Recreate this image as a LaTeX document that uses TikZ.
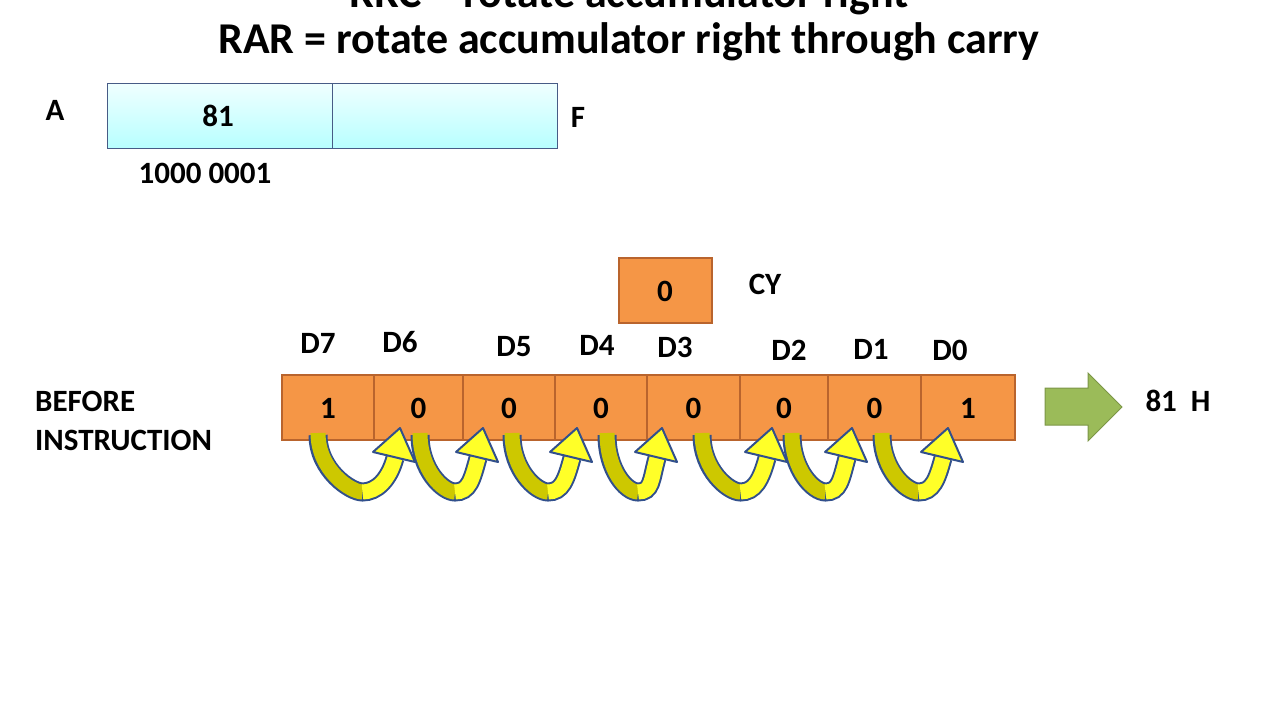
\documentclass[tikz,border=0pt]{standalone}
\usepackage{fontspec}
\setmainfont{Carlito}
\begin{document}
\begin{tikzpicture}[x=1pt,y=-1pt,
 lbl/.style={font=\bfseries\fontsize{31}{33}\selectfont,inner sep=0}]
\definecolor{cellc}{RGB}{245,150,70}
\definecolor{celld}{RGB}{185,100,45}
\definecolor{bluo}{RGB}{50,80,140}
\definecolor{dy}{RGB}{205,200,0}
\definecolor{ly}{RGB}{255,255,40}
\definecolor{grn}{RGB}{155,187,89}
\useasboundingbox (0,0) rectangle (1280,720);
\node[font=\bfseries\fontsize{44}{46}\selectfont,inner sep=0] (t1) at (629,-4) {RRC = rotate accumulator right};
\node[font=\bfseries\fontsize{44}{46}\selectfont,inner sep=0] (t2) at (629,42) {RAR = rotate accumulator right through carry};
% A register
\shade[top color=cyan!6,bottom color=cyan!28,draw=cyan!40!blue!60!black] (107,83) rectangle (557,148);
\draw[cyan!40!blue!60!black] (332,83) -- (332,148);
\node[lbl] (a) at (55,110) {A};
\node[lbl] (f) at (578,117) {F};
\node[lbl] (v81) at (218,116) {81};
\node[lbl] (bin) at (205,173) {1000 0001};
% CY
\draw[draw=celld,line width=2.5pt,fill=cellc] (619,258) rectangle (712,323);
\node[lbl] (cy0) at (665,291) {0};
\node[lbl] (cy) at (765,284) {CY};
% cells
\foreach \a/\b/\v/\lab/\lx/\ly in {282/374/1/D7/318/343, 374/463/0/D6/400/342, 463/555/0/D5/514/347, 555/647/0/D4/597/345, 647/740/0/D3/675/347, 740/828/0/D2/789/350, 828/921/0/D1/871/349, 921/1015/1/D0/950/350}{
 \draw[draw=celld,line width=2.5pt,fill=cellc] (\a,375) rectangle (\b,440);
 \node[lbl] at ({(\a+\b)/2},408) {\v};
 \node[lbl] at (\lx,\ly) {\lab};
}
% curved arrows
\foreach \s/\t in {318/403, 420/486, 512/580, 607/665, 702/775, 792/855, 882/951}{
 \pgfmathsetmacro{\m}{(\s+\t)/2+2}
 \draw[bluo,line width=19pt] (\s,435) .. controls (\s,470) and (\m-12,492) .. (\m,492) .. controls (\m+14,492) and (\t-14,480) .. (\t-8,458);
 \draw[dy,line width=15pt] (\s,433) .. controls (\s,470) and (\m-12,492) .. (\m,492);
 \draw[ly,line width=15pt] (\m,492) .. controls (\m+14,492) and (\t-14,480) .. (\t-8,458);
 \filldraw[fill=ly,draw=bluo,line width=2pt,line join=round] (\t-30,452) -- (\t-3,428) -- (\t+12,462) -- cycle;
}
% green arrow
\filldraw[fill=grn,draw=grn!80!black,line width=1pt] (1045,388) -- (1088,388) -- (1088,373) -- (1122,407) -- (1088,441) -- (1088,425) -- (1045,425) -- cycle;
\node[lbl] (h) at (1178,401) {81\ \ H};
\node[lbl,anchor=west] (b1) at (35,401) {BEFORE};
\node[lbl,anchor=west] (b2) at (35,440) {INSTRUCTION};
\end{tikzpicture}
\end{document}
